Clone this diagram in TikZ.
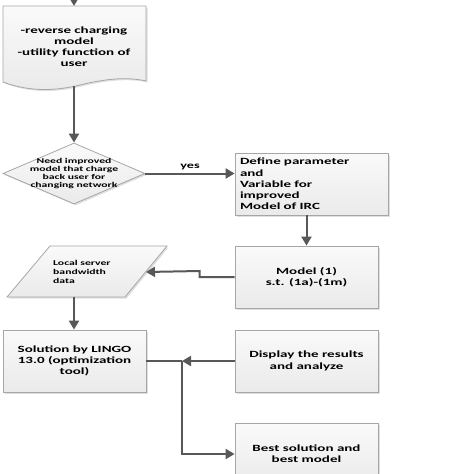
\documentclass[tikz,border=0pt]{standalone}
\usepackage{fontspec}
\newfontfamily\dfont{Carlito}[FakeStretch=1.58]
\usetikzlibrary{arrows.meta,shapes.geometric,shadows}
\definecolor{edge}{HTML}{A6A6A6}
\definecolor{arr}{HTML}{585858}
\definecolor{boxtop}{HTML}{FAFAFA}
\definecolor{boxbot}{HTML}{EAEAEA}
\begin{document}
\begin{tikzpicture}[x=1pt,y=-1pt,
  shade/.style={draw=edge, line width=0.8pt, top color=boxtop, bottom color=boxbot,
    drop shadow={shadow xshift=1.5pt,shadow yshift=-1.5pt,opacity=0.25}},
  box/.style={shade, rectangle, minimum width=143pt, minimum height=62pt, inner sep=0pt,
    font=\dfont\bfseries\fontsize{9.5}{11.2}\selectfont, align=center},
  txt/.style={inner sep=0pt, font=\dfont\bfseries\fontsize{9.5}{11.2}\selectfont, align=center},
  small/.style={inner sep=0pt, font=\dfont\bfseries\fontsize{7.4}{7.8}\selectfont, align=center},
  link/.style={draw=arr, line width=2pt, -{Triangle[length=9pt,width=10pt]}},
  plain/.style={draw=arr, line width=2pt}]
\useasboundingbox (0,0) rectangle (474,474);
% document shape
\draw[shade] (3,6) -- (146,6) -- (146,81) .. controls (125,76) and (100,80) .. (80,85)
  .. controls (55,91) and (30,92) .. (3,82) -- cycle;
\node[txt] (doc) at (74,46.5) {-reverse charging\\model\\-utility function of\\user};
\coordinate (topin) at (74,-12);
\coordinate (docbot) at (74,86);
\coordinate (doctop) at (74,6);
% decision
\node[shade, diamond, minimum width=142pt, minimum height=61pt, aspect=2.33, inner sep=0pt] (dia) at (74,173.5) {};
\node[small] (diatext) at (dia.center) {Need improved\\model that charge\\back user for\\changing network};
% boxes
\node[box, minimum width=153pt, align=left, text width=143pt] (def) at (311.5,184) {Define parameter\\and\\Variable for\\improved\\Model of IRC};
\node[box] (model) at (306.5,277) {Model (1)\\s.t. (1a)-(1m)};
\node[box] (sol) at (74.5,361) {Solution by LINGO\\13.0 (optimization\\tool)};
\node[box] (disp) at (306.5,361) {Display the results\\and analyze};
\node[box] (best) at (306.5,454) {Best solution and\\best model};
% data parallelogram
\draw[shade] (50,246) -- (167,246) -- (125,297) -- (7,297) -- cycle;
\node[inner sep=0pt, font=\dfont\bfseries\fontsize{7.4}{9}\selectfont, align=left, anchor=west] (data) at (53,272) {Local server\\bandwidth\\data};
\coordinate (dataR) at (146,272);
\coordinate (dataB) at (74,297);
\coordinate (J) at (182,361);
% connectors
\draw[link] (topin) -- (doctop);
\draw[link] (docbot) -- (dia.north);
\draw[link] (dia.east) -- (dia.east -| def.west) node[midway, above=3pt, inner sep=0pt, font=\dfont\bfseries\fontsize{9}{10}\selectfont] {yes};
\draw[link] (model.north |- def.south) -- (model.north);
\draw[link] (model.west) -- ++(-35,0) -- ++(0,-6) -- (dataR);
\draw[link] (dataB) -- (sol.north -| dataB);
\draw[link] (disp.west) -- (J);
\draw[plain] (sol.east) -- (J);
\draw[link] (J) |- (best.west);
\end{tikzpicture}
\end{document}
